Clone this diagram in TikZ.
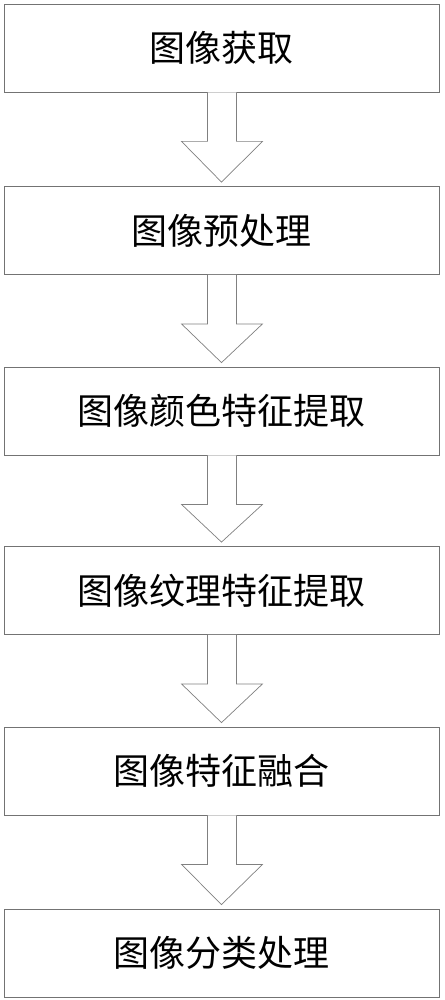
\documentclass[tikz,border=0pt]{standalone}
\usepackage{fontspec}
\newfontfamily\cjk{Noto Sans CJK SC}
\usetikzlibrary{calc}
\tikzset{
  x=1pt,y=1pt,
  stepbox/.style={draw=black!55, line width=0.8pt, fill=white, minimum width=435pt, minimum height=88pt, inner sep=0pt,
    font=\cjk\fontsize{36}{40}\selectfont, text=black},
  blockarrow/.style={draw=black!50, line width=0.7pt, fill=white, line join=miter}
}
\begin{document}
\begin{tikzpicture}
\useasboundingbox (0,0) rectangle (444,-1000);
\node[stepbox] (b1) at (221.5,-48) {图像获取};
\node[stepbox] (b2) at (221.5,-230.5) {图像预处理};
\node[stepbox] (b3) at (221.5,-411) {图像颜色特征提取};
\node[stepbox] (b4) at (221.5,-590.5) {图像纹理特征提取};
\node[stepbox] (b5) at (221.5,-771) {图像特征融合};
\node[stepbox] (b6) at (221.5,-953) {图像分类处理};
\foreach \a/\b in {b1/b2,b2/b3,b3/b4,b4/b5,b5/b6}{
  \draw[blockarrow]
    ($(\a.south)+(-14,0)$) -- ($(\a.south)+(-14,-49)$) -- ($(\a.south)+(-40,-49)$)
    -- ($(\b.north)+(0,4)$)
    -- ($(\a.south)+(41,-49)$) -- ($(\a.south)+(15,-49)$) -- ($(\a.south)+(15,0)$);
}
\end{tikzpicture}
\end{document}
